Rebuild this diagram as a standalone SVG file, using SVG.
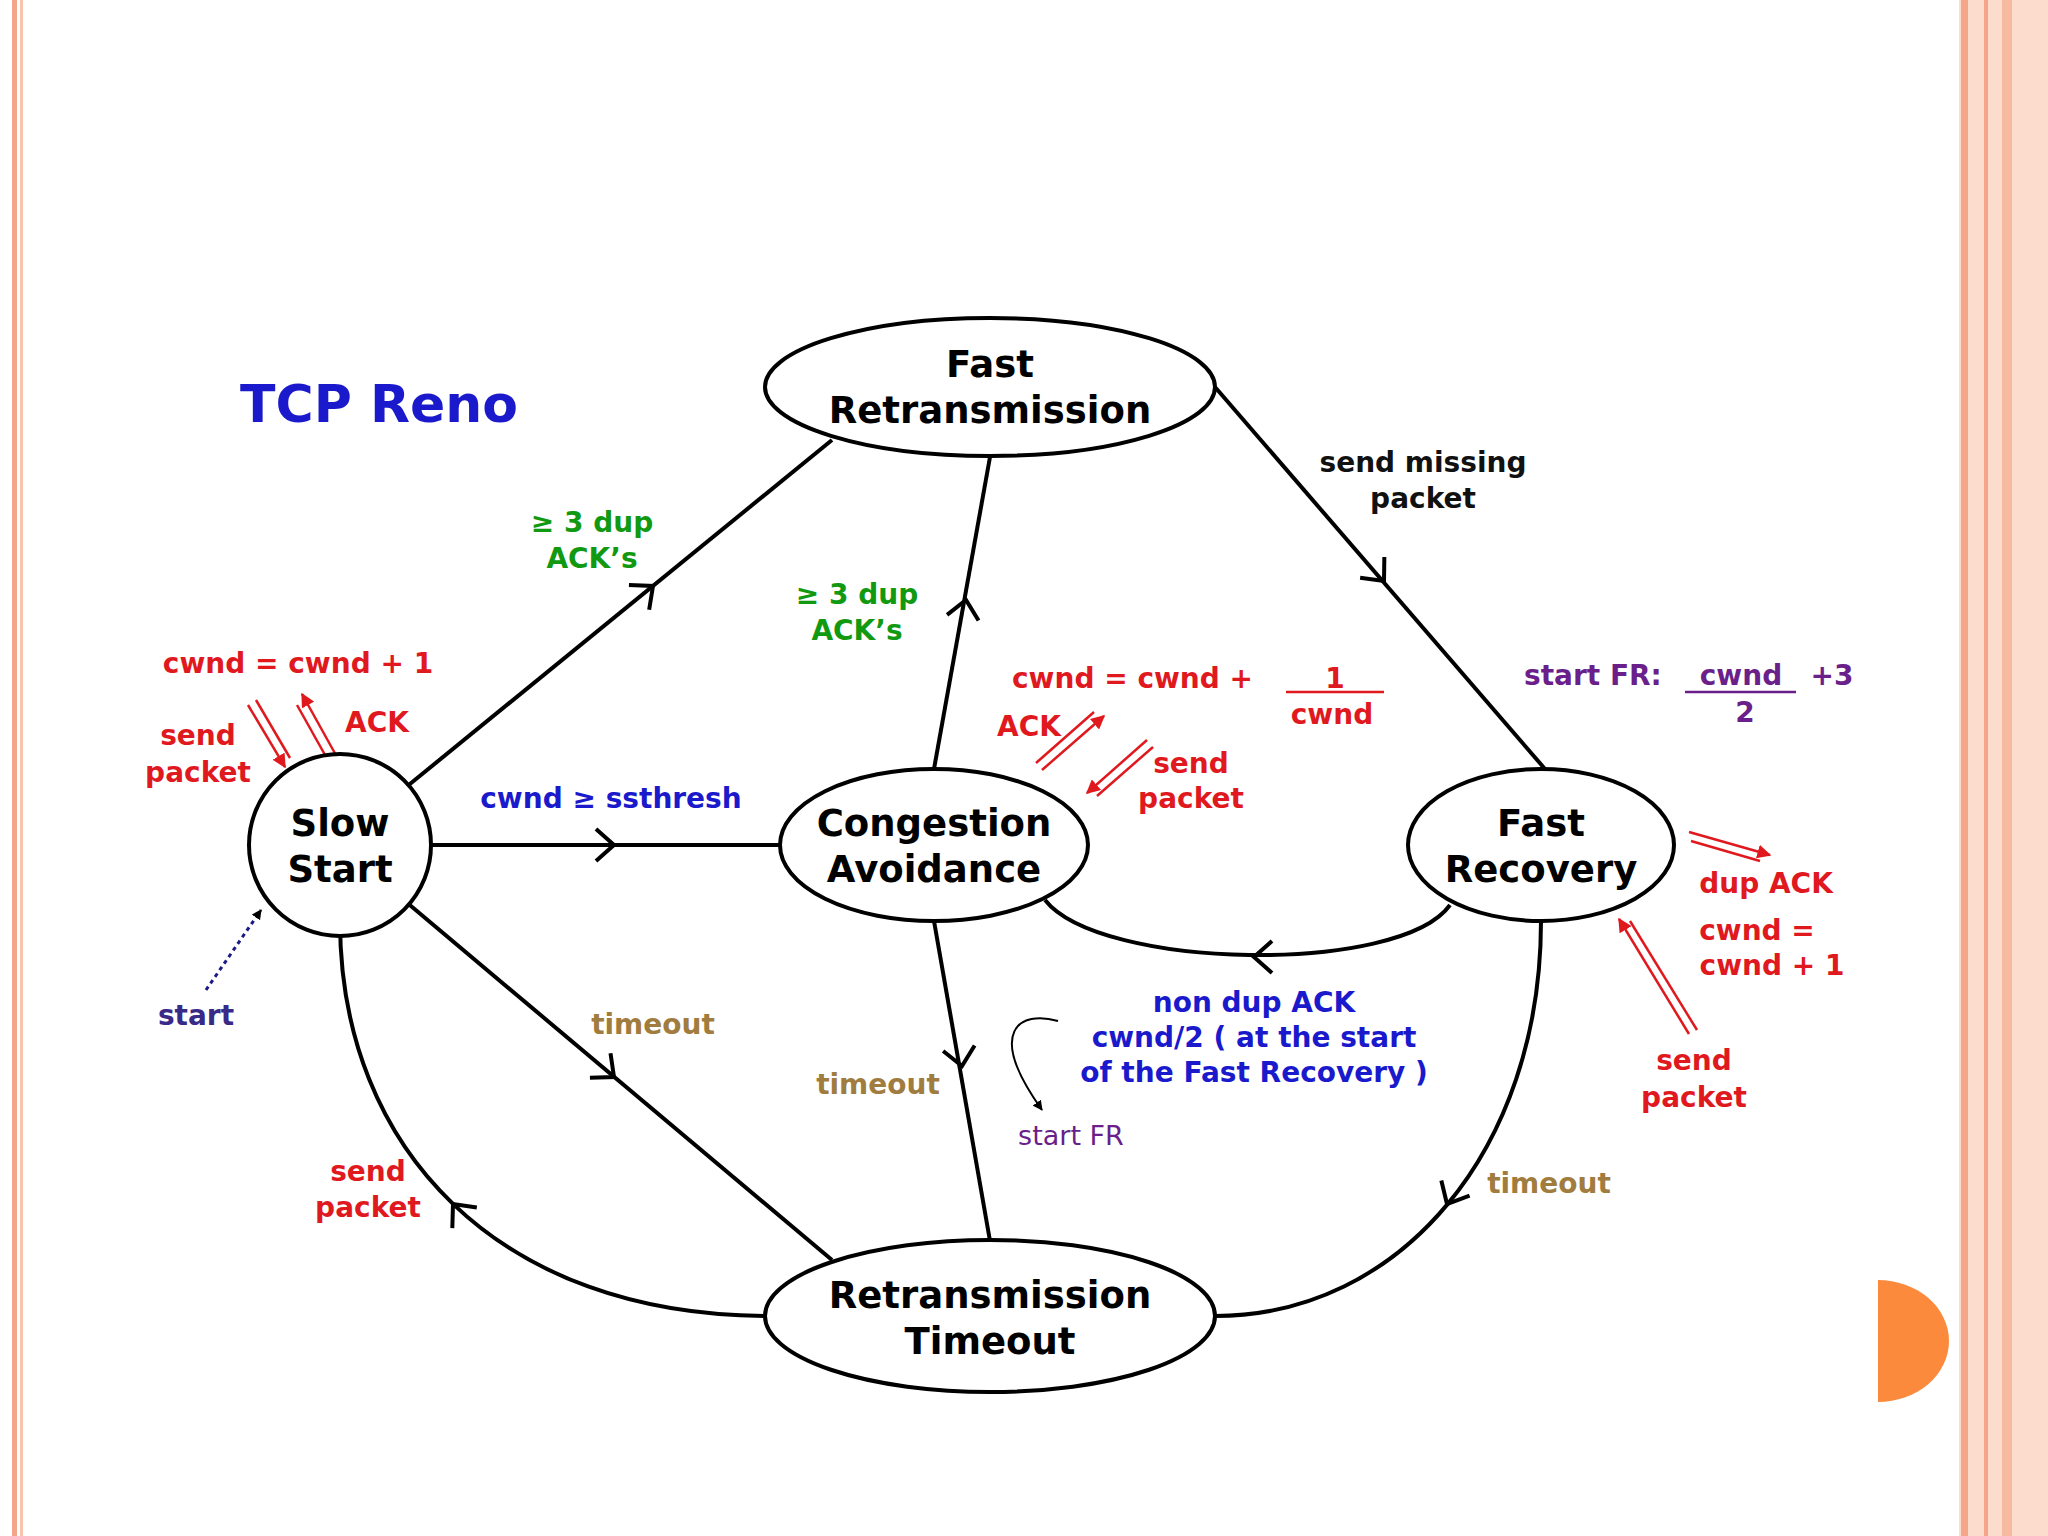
<svg xmlns="http://www.w3.org/2000/svg" width="2048" height="1536" viewBox="0 0 2048 1536">
<defs>
<style>
.n{fill:#fff;stroke:#000;stroke-width:4}
.e{fill:none;stroke:#000;stroke-width:4}
.nt{font-family:"DejaVu Sans",sans-serif;font-weight:bold;font-size:37px;fill:#000;text-anchor:middle}
.l{font-family:"DejaVu Sans",sans-serif;font-weight:bold;font-size:28px;text-anchor:middle}
.g{fill:#119911}.r{fill:#e0191f}.b{fill:#1a1acc}.k{fill:#111}.t{fill:#a07c3e}.p{fill:#6a1f8a}
.ra{fill:none;stroke:#e0191f;stroke-width:2.5}
</style>
<path id="ch" d="M-18,-16 L0,0 L-18,16" fill="none" stroke="#000" stroke-width="4"/>
<marker id="rh" viewBox="0 0 10 10" refX="9" refY="5" markerWidth="14" markerHeight="14" markerUnits="userSpaceOnUse" orient="auto"><path d="M0,0 L10,5 L0,10z" fill="#e0191f"/></marker>
<marker id="kh" viewBox="0 0 10 10" refX="9" refY="5" markerWidth="10" markerHeight="10" markerUnits="userSpaceOnUse" orient="auto"><path d="M0,0 L10,5 L0,10z" fill="#000"/></marker>
</defs>
<rect width="2048" height="1536" fill="#fff"/>
<rect x="12" y="0" width="5" height="1536" fill="#f4a58a"/>
<rect x="20" y="0" width="3" height="1536" fill="#f9c4ae"/>
<rect x="1959" y="0" width="89" height="1536" fill="#fcdccd"/>
<rect x="1961" y="0" width="7" height="1536" fill="#f4a58a"/>
<rect x="1984" y="0" width="4" height="1536" fill="#f4a58a"/>
<rect x="2002" y="0" width="10" height="1536" fill="#f7b9a0"/>
<path d="M1878,1280 A71,61 0 0 1 1878,1402 Z" fill="#fb8a3c"/>
<text x="379" y="422" font-family="DejaVu Sans,sans-serif" font-weight="bold" font-size="52" fill="#1a1acc" text-anchor="middle">TCP Reno</text>
<g id="connectors">
<line class="e" x1="405" y1="788" x2="832" y2="440"/>
<line class="e" x1="934" y1="769" x2="990" y2="457"/>
<line class="e" x1="1215" y1="387" x2="1545" y2="769"/>
<line class="e" x1="431" y1="845" x2="780" y2="845"/>
<path class="e" d="M1450,905 C1400,975 1100,970 1045,900"/>
<line class="e" x1="405" y1="901" x2="832" y2="1260"/>
<line class="e" x1="934" y1="921" x2="990" y2="1241"/>
<path class="e" d="M768,1316 C500,1316 340,1150 340,921"/>
<path class="e" d="M1541,921 C1541,1150 1400,1316 1215,1316"/>
<use href="#ch" transform="translate(653,586) rotate(-39.2)"/>
<use href="#ch" transform="translate(966,600) rotate(-79.8)"/>
<use href="#ch" transform="translate(1384,581) rotate(49.2)"/>
<use href="#ch" transform="translate(614,845)"/>
<use href="#ch" transform="translate(1254,957) rotate(180)"/>
<use href="#ch" transform="translate(614,1077) rotate(40)"/>
<use href="#ch" transform="translate(962,1066) rotate(80)"/>
<use href="#ch" transform="translate(453,1204) rotate(-130)"/>
<use href="#ch" transform="translate(1447,1204) rotate(118)"/>
<line x1="206" y1="990" x2="261" y2="910" stroke="#1a1a88" stroke-width="3" stroke-dasharray="4,4" marker-end="url(#kh)"/>
<path d="M1058,1021 C1020,1010 985,1030 1042,1110" fill="none" stroke="#000" stroke-width="2" marker-end="url(#kh)"/>
<g class="ra">
<line x1="248" y1="705" x2="285" y2="767" marker-end="url(#rh)"/>
<line x1="256" y1="700" x2="290" y2="758"/>
<line x1="337" y1="757" x2="302" y2="694" marker-end="url(#rh)"/>
<line x1="329" y1="762" x2="297" y2="705"/>
<line x1="1042" y1="770" x2="1104" y2="716" marker-end="url(#rh)"/>
<line x1="1036" y1="763" x2="1094" y2="712"/>
<line x1="1147" y1="740" x2="1087" y2="793" marker-end="url(#rh)"/>
<line x1="1153" y1="747" x2="1097" y2="796"/>
<line x1="1689" y1="832" x2="1770" y2="855" marker-end="url(#rh)"/>
<line x1="1691" y1="841" x2="1760" y2="861"/>
<line x1="1689" y1="1034" x2="1619" y2="919" marker-end="url(#rh)"/>
<line x1="1697" y1="1030" x2="1630" y2="921"/>
</g>
</g>
<g id="fastRetransmission"><ellipse class="n" cx="990" cy="387" rx="225" ry="69"/><text class="nt" x="990" y="377">Fast</text><text class="nt" x="990" y="423">Retransmission</text></g>
<g id="slowStart"><circle class="n" cx="340" cy="845" r="91"/><text class="nt" x="340" y="836">Slow</text><text class="nt" x="340" y="882">Start</text></g>
<g id="congestionAvoidance"><ellipse class="n" cx="934" cy="845" rx="154" ry="76"/><text class="nt" x="934" y="836">Congestion</text><text class="nt" x="934" y="882">Avoidance</text></g>
<g id="fastRecovery"><ellipse class="n" cx="1541" cy="845" rx="133" ry="76"/><text class="nt" x="1541" y="836">Fast</text><text class="nt" x="1541" y="882">Recovery</text></g>
<g id="retransmissionTimeout"><ellipse class="n" cx="990" cy="1316" rx="225" ry="76"/><text class="nt" x="990" y="1308">Retransmission</text><text class="nt" x="990" y="1354">Timeout</text></g>
<g id="labels">
<text class="l g" x="592" y="532">≥ 3 dup</text><text class="l g" x="592" y="568">ACK’s</text>
<text class="l g" x="857" y="604">≥ 3 dup</text><text class="l g" x="857" y="640">ACK’s</text>
<text class="l k" x="1423" y="472">send missing</text><text class="l k" x="1423" y="508">packet</text>
<text class="l r" x="298" y="673">cwnd = cwnd + 1</text>
<text class="l r" x="198" y="745">send</text><text class="l r" x="198" y="782">packet</text>
<text class="l r" x="377" y="732">ACK</text>
<text class="l b" x="611" y="808">cwnd ≥ ssthresh</text>
<text class="l r" x="1012" y="688" style="text-anchor:start">cwnd = cwnd +</text>
<text class="l r" x="1335" y="688">1</text>
<line x1="1286" y1="692" x2="1384" y2="692" stroke="#e0191f" stroke-width="2.5"/>
<text class="l r" x="1332" y="724">cwnd</text>
<text class="l r" x="1029" y="736">ACK</text>
<text class="l r" x="1191" y="773">send</text><text class="l r" x="1191" y="808">packet</text>
<text class="l p" x="1524" y="685" style="text-anchor:start">start FR:</text>
<text class="l p" x="1741" y="685">cwnd</text>
<line x1="1685" y1="692" x2="1796" y2="692" stroke="#6a1f8a" stroke-width="2.5"/>
<text class="l p" x="1832" y="685">+3</text>
<text class="l p" x="1745" y="722">2</text>
<text class="l r" x="1766" y="893">dup ACK</text>
<text class="l r" x="1757" y="940">cwnd =</text>
<text class="l r" x="1772" y="975">cwnd + 1</text>
<text class="l r" x="1694" y="1070">send</text><text class="l r" x="1694" y="1107">packet</text>
<text class="l b" x="1254" y="1012">non dup ACK</text>
<text class="l b" x="1254" y="1047">cwnd/2 ( at the start</text>
<text class="l b" x="1254" y="1082">of the Fast Recovery )</text>
<text x="1071" y="1145" font-family="DejaVu Sans,sans-serif" font-size="27" fill="#6a1f8a" text-anchor="middle">start FR</text>
<text class="l" x="196" y="1025" fill="#3a2a88">start</text>
<text class="l t" x="653" y="1034">timeout</text>
<text class="l t" x="878" y="1094">timeout</text>
<text class="l t" x="1549" y="1193">timeout</text>
<text class="l r" x="368" y="1181">send</text><text class="l r" x="368" y="1217">packet</text>
</g>
</svg>
